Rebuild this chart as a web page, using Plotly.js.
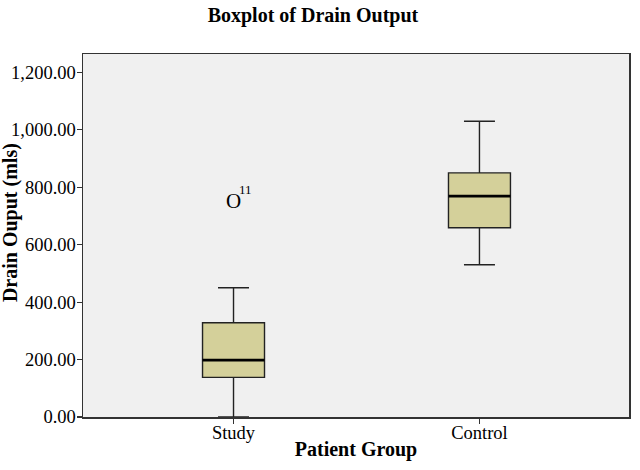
<!DOCTYPE html>
<html>
<head>
<meta charset="utf-8">
<script src="https://cdn.plot.ly/plotly-3.0.1.min.js"></script>
<style>html,body{margin:0;padding:0;background:#fff;}#chart{width:640px;height:470px;}</style>
</head>
<body>
<div id="chart"></div>
<script>
const groups = ['Study', 'Control'];
const lowerWhisker = [0, 530];
const q1 = [138, 659];
const median = [198, 769];
const q3 = [328, 850];
const upperWhisker = [450, 1030];
const outlierGroup = ['Study'];
const outlierValue = [745];
const outlierLabel = ['11'];
const yTicks = [0, 200, 400, 600, 800, 1000, 1200];

const serif = '"Liberation Serif", "Times New Roman", serif';
const boxWidth = 0.252;

const boxTrace = {
  type: 'box',
  x: groups,
  q1: q1, median: median, q3: q3,
  lowerfence: lowerWhisker, upperfence: upperWhisker,
  fillcolor: '#d4d09a',
  line: {color: '#222222', width: 1.4},
  whiskerwidth: 0.5,
  width: boxWidth,
  boxpoints: false,
  hoverinfo: 'skip',
  showlegend: false
};
const medianTrace = {
  type: 'box',
  x: groups,
  q1: median, median: median, q3: median,
  lowerfence: median, upperfence: median,
  fillcolor: 'rgba(0,0,0,0)',
  line: {color: '#000000', width: 2.6},
  whiskerwidth: 0,
  width: boxWidth,
  boxpoints: false,
  hoverinfo: 'skip',
  showlegend: false
};
const outlierTrace = {
  type: 'scatter',
  mode: 'text',
  x: outlierGroup,
  y: outlierValue,
  text: outlierGroup.map(() => 'O'),
  textposition: 'middle center',
  textfont: {family: serif, size: 21, color: '#000'},
  hoverinfo: 'skip',
  showlegend: false
};
const outlierLabelTrace = {
  type: 'scatter',
  mode: 'markers+text',
  x: outlierGroup,
  y: outlierValue,
  text: outlierLabel,
  textposition: 'top right',
  marker: {size: 7, color: 'rgba(0,0,0,0)'},
  textfont: {family: serif, size: 13, color: '#000'},
  hoverinfo: 'skip',
  showlegend: false
};

const layout = {
  width: 640, height: 470,
  margin: {l: 83, r: 11, t: 54, b: 53},
  paper_bgcolor: '#ffffff',
  plot_bgcolor: '#f0f0f0',
  font: {family: serif, color: '#000', size: 18.5},
  boxmode: 'overlay',
  title: {text: '<b>Boxplot of Drain Output</b>', font: {family: serif, size: 20, color: '#000'},
          x: 0.489, xanchor: 'center', y: 0.968, yanchor: 'middle', xref: 'container', yref: 'container'},
  xaxis: {
    type: 'category',
    categoryarray: groups,
    range: [-0.612, 1.608],
    showline: true, mirror: true, linecolor: '#333', linewidth: 1.5,
    ticks: 'outside', ticklen: 5, tickcolor: '#333', tickwidth: 1.2,
    ticklabelstandoff: -7,
    tickfont: {family: serif, size: 18.5, color: '#000'},
    showgrid: false, zeroline: false,
    title: {text: '<b>Patient Group</b>', font: {family: serif, size: 20, color: '#000'}, standoff: 0}
  },
  yaxis: {
    range: [0, 1264],
    tickvals: yTicks,
    tickformat: ',.2f',
    showline: true, mirror: true, linecolor: '#333', linewidth: 1.5,
    ticks: 'outside', ticklen: 5, tickcolor: '#333', tickwidth: 1.2,
    ticklabelstandoff: -3,
    tickfont: {family: serif, size: 18.5, color: '#000'},
    showgrid: false, zeroline: false
  },
  annotations: [{
    text: '<b>Drain Ouput (mls)</b>',
    xref: 'paper', yref: 'paper',
    x: -0.1337, y: 0.537, xanchor: 'center', yanchor: 'middle',
    textangle: -90, showarrow: false,
    font: {family: serif, size: 20, color: '#000'}
  }]
};

Plotly.newPlot('chart', [boxTrace, medianTrace, outlierTrace, outlierLabelTrace], layout, {displayModeBar: false, staticPlot: true});
</script>
</body>
</html>
